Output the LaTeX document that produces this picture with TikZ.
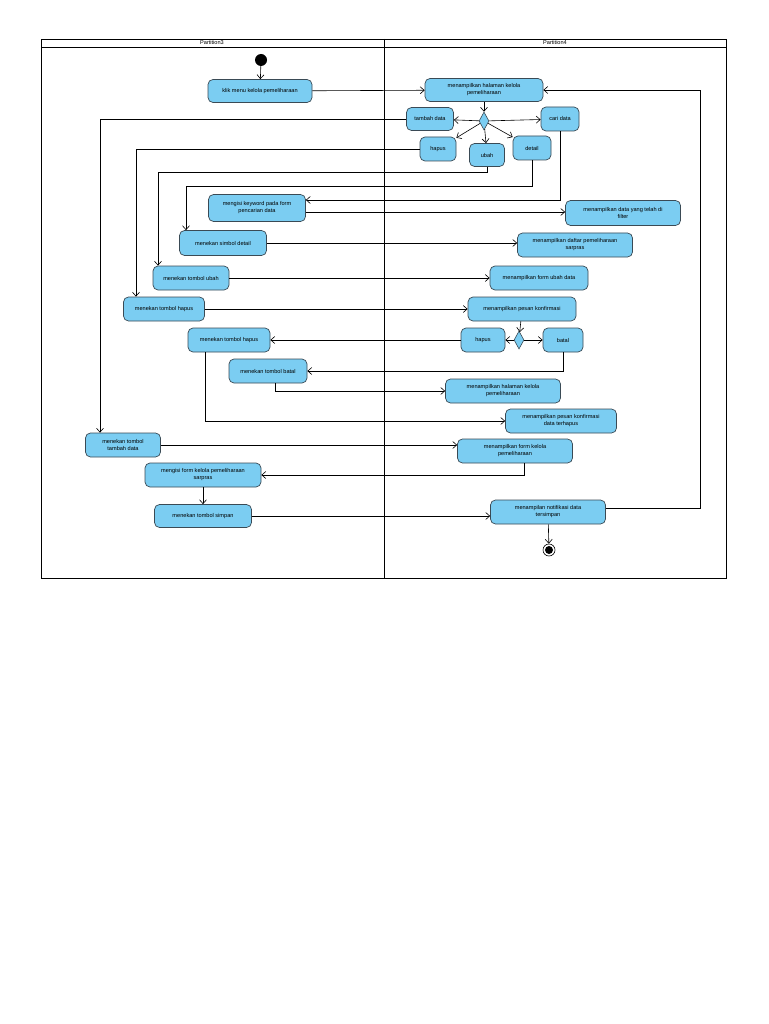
\documentclass[tikz,border=0pt]{standalone}
\usepackage{fontspec}
\setmainfont{Liberation Sans}
\usetikzlibrary{arrows.meta,shapes.geometric}
\definecolor{actfill}{HTML}{7BCDF2}
\definecolor{actline}{HTML}{3A4A55}
\begin{document}
\begin{tikzpicture}[x=1pt,y=-1pt,
  act/.style={draw=actline,fill=actfill,rounded corners=5pt,line width=0.7pt,minimum height=23pt,inner sep=1pt,align=center,font=\fontsize{5.6}{7}\selectfont},
  dec/.style={draw=actline,fill=actfill,diamond,minimum width=10pt,minimum height=18pt,inner sep=0pt,line width=0.6pt},
  flow/.style={-{Straight Barb[length=4pt,width=7pt]},line width=0.6pt},
  lbl/.style={font=\fontsize{5.6}{7}\selectfont}]
\useasboundingbox (0,0) rectangle (768,1024);
\fill[white] (0,0) rectangle (768,1024);
% frame
\draw[line width=0.9pt] (41,39) rectangle (726,578);
\draw[line width=0.6pt] (41,47) -- (726,47);
\draw[line width=0.6pt] (384,39) -- (384,578);
\node[lbl] (p3) at (212,43) {Partition3};
\node[lbl] (p4) at (555,43) {Partition4};
% nodes
\node[fill=black,circle,minimum size=12pt,inner sep=0pt] (start) at (261,60) {};
\node[act,minimum width=104pt] (klik) at (260,91) {klik menu kelola pemeliharaan};
\node[act,minimum width=118pt] (hal1) at (484,90) {menampilkan halaman kelola\\pemeliharaan};
\node[act,minimum width=47pt] (tambah) at (430,119) {tambah data};
\node[dec] (d1) at (484,121) {};
\node[act,minimum width=38pt,minimum height=24pt] (cari) at (560,119) {cari data};
\node[act,minimum width=36pt,minimum height=24pt] (hapus) at (438,149) {hapus};
\node[act,minimum width=35pt] (ubah) at (487,155) {ubah};
\node[act,minimum width=38pt,minimum height=24pt] (detail) at (532,148) {detail};
\node[act,minimum width=97pt,minimum height=27pt] (keyword) at (257,208) {mengisi keyword pada form\\pencarian data};
\node[act,minimum width=115pt,minimum height=25pt] (filter) at (623,213) {menampilkan data yang telah di\\filter};
\node[act,minimum width=87pt,minimum height=25pt] (simbol) at (223,243) {menekan simbol detail};
\node[act,minimum width=115pt,minimum height=24pt] (daftar) at (575,245) {menampilkan daftar pemeliharaan\\sarpras};
\node[act,minimum width=76pt,minimum height=24pt] (tubah) at (191,278) {menekan tombol ubah};
\node[act,minimum width=98pt,minimum height=24pt] (fubah) at (539,278) {menampilkan form ubah data};
\node[act,minimum width=81pt,minimum height=24pt] (thapus) at (164,309) {menekan tombol hapus};
\node[act,minimum width=108pt,minimum height=24pt] (pesan) at (522,309) {menampilkan pesan konfirmasi};
\node[act,minimum width=82pt,minimum height=24pt] (thapus2) at (229,340) {menekan tombol hapus};
\node[act,minimum width=44pt,minimum height=24pt] (hapus2) at (483,340) {hapus};
\node[dec] (d2) at (519,340) {};
\node[act,minimum width=40pt,minimum height=24pt] (batal) at (563,340) {batal};
\node[act,minimum width=78pt,minimum height=24pt] (tbatal) at (268,371) {menekan tombol batal};
\node[act,minimum width=115pt,minimum height=24pt] (hal2) at (503,391) {menampilkan halaman kelola\\pemeliharaan};
\node[act,minimum width=111pt,minimum height=24pt] (terhapus) at (561,421) {menampilkan pesan konfirmasi\\data terhapus};
\node[act,minimum width=75pt,minimum height=24pt] (ttambah) at (123,445) {menekan tombol\\tambah data};
\node[act,minimum width=115pt,minimum height=24pt] (fkelola) at (515,451) {menampilkan form kelola\\pemeliharaan};
\node[act,minimum width=116pt,minimum height=24pt] (isi) at (203,475) {mengisi form kelola pemeliharaan\\sarpras};
\node[act,minimum width=97pt,minimum height=23pt] (simpan) at (203,516) {menekan tombol simpan};
\node[act,minimum width=115pt,minimum height=24pt] (notif) at (548,512) {menampilan notifikasi data\\tersimpan};
\node[circle,draw,line width=0.6pt,minimum size=12pt,inner sep=0pt] (end) at (549,550) {};
\fill (end.center) circle (4pt);
% connectors
\draw[flow] (start) -- (klik);
\draw[flow] (klik) -- (hal1);
\draw[flow] (hal1) -- (d1);
\draw[flow] (d1) -- (tambah);
\draw[flow] (d1) -- (cari);
\draw[flow] (d1) -- (hapus);
\draw[flow] (d1) -- (ubah);
\draw[flow] (d1) -- (detail);
\draw[flow] (tambah.west) -| (ttambah.north -| 100,0);
\draw[flow] (hapus.west) -| (thapus.north -| 136,0);
\draw[flow] (ubah.south) |- (158,172) -- (tubah.north -| 158,0);
\draw[flow] (detail.south) |- (186,186) -- (simbol.north -| 186,0);
\draw[flow] (cari.south) |- (keyword.east |- 0,200);
\draw[flow] (keyword.east |- 0,212) -- (filter.west |- 0,212);
\draw[flow] (simbol) -- (daftar.west |- simbol);
\draw[flow] (tubah) -- (fubah);
\draw[flow] (thapus) -- (pesan);
\draw[flow] (pesan) -- (d2);
\draw[flow] (d2) -- (hapus2);
\draw[flow] (d2) -- (batal);
\draw[flow] (hapus2) -- (thapus2);
\draw[flow] (batal.south) |- (tbatal.east);
\draw[flow] (tbatal.south -| 275,0) |- (hal2.west);
\draw[flow] (thapus2.south -| 205,0) |- (terhapus.west);
\draw[flow] (ttambah) -- (fkelola.west |- ttambah);
\draw[flow] (fkelola.south -| 524,0) |- (isi.east);
\draw[flow] (isi) -- (simpan);
\draw[flow] (simpan) -- (notif.west |- simpan);
\draw[flow] (notif.east |- 0,508) -| (700,90) -- (hal1.east |- 0,90);
\draw[flow] (notif) -- (end);
\end{tikzpicture}
\end{document}
